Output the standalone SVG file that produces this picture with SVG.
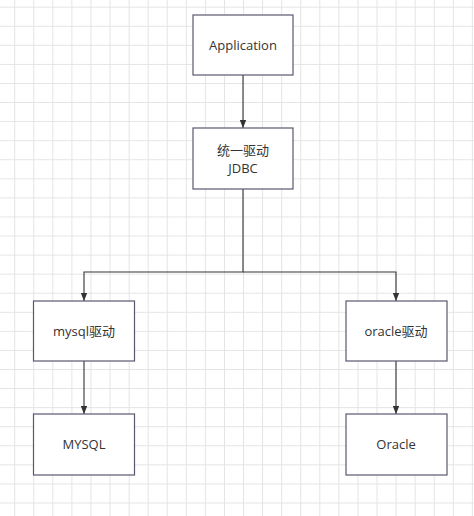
<svg xmlns="http://www.w3.org/2000/svg" width="474" height="516" viewBox="0 0 474 516">
  <defs>
    <pattern id="grid" patternUnits="userSpaceOnUse" x="14.2" y="6.7" width="19.07" height="19.07">
      <path d="M0 0.5H19.07M0.5 0V19.07" fill="none" stroke="#e4e4e4" stroke-width="1"/>
    </pattern>
    <marker id="arrow" markerUnits="userSpaceOnUse" markerWidth="8" markerHeight="8" viewBox="0 0 8 8" refX="8" refY="4" orient="auto">
      <path d="M0 0.8L8 4L0 7.2Z" fill="#333333"/>
    </marker>
    <style>
      .box { fill: #ffffff; stroke: #585870; stroke-width: 1.2; }
      .lbl { font-family: "Open Sans", "Noto Sans CJK SC", sans-serif; font-size: 13px; fill: #333333; text-anchor: middle; }
      .conn { fill: none; stroke: #333333; stroke-width: 1.1; }
    </style>
  </defs>
  <rect x="0" y="0" width="474" height="516" fill="#ffffff"/>
  <rect x="0" y="0" width="474" height="516" fill="url(#grid)"/>

  <g id="connectors">
    <path class="conn" d="M243 75V128" marker-end="url(#arrow)"/>
    <path class="conn" d="M243 189V272H84V301" marker-end="url(#arrow)"/>
    <path class="conn" d="M243 272H396V301" marker-end="url(#arrow)"/>
    <path class="conn" d="M84 361V414" marker-end="url(#arrow)"/>
    <path class="conn" d="M396 361V414" marker-end="url(#arrow)"/>
  </g>

  <g id="node-application">
    <rect class="box" x="193" y="15" width="100" height="60"/>
    <text class="lbl" x="243" y="50">Application</text>
  </g>
  <g id="node-jdbc">
    <rect class="box" x="193" y="128" width="100" height="61"/>
    <text class="lbl" x="243" y="155">统一驱动</text>
    <text class="lbl" x="243" y="173">JDBC</text>
  </g>
  <g id="node-mysql-driver">
    <rect class="box" x="33.5" y="301" width="101" height="60"/>
    <text class="lbl" x="84" y="336">mysql驱动</text>
  </g>
  <g id="node-oracle-driver">
    <rect class="box" x="346" y="301" width="101" height="60"/>
    <text class="lbl" x="396" y="336">oracle驱动</text>
  </g>
  <g id="node-mysql">
    <rect class="box" x="33.5" y="414" width="101" height="61"/>
    <text class="lbl" x="84" y="449">MYSQL</text>
  </g>
  <g id="node-oracle">
    <rect class="box" x="346" y="414" width="101" height="61"/>
    <text class="lbl" x="396" y="449">Oracle</text>
  </g>
</svg>
